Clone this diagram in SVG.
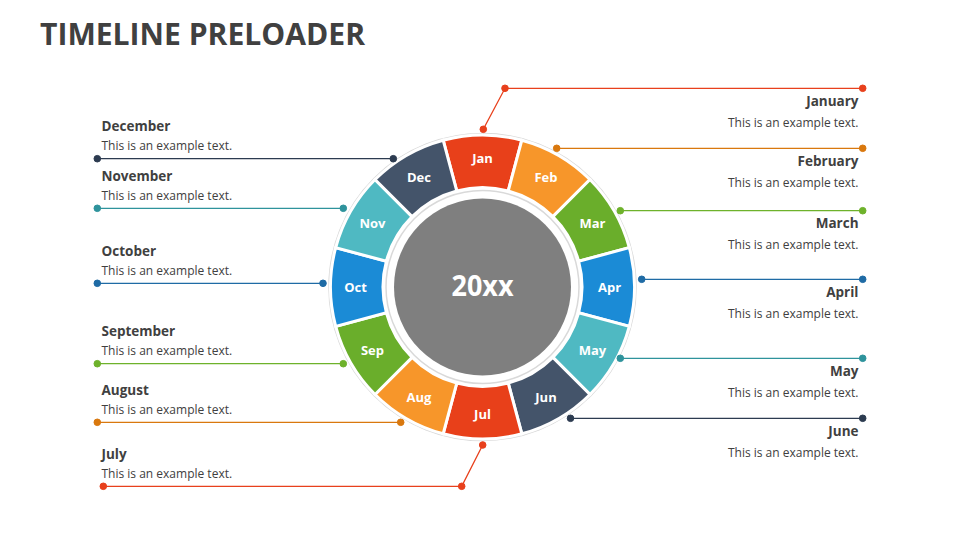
<svg xmlns="http://www.w3.org/2000/svg" width="960" height="540" viewBox="0 0 960 540">
<style>
.title{font-family:"Open Sans","DejaVu Sans",sans-serif;font-weight:700;font-size:30px;fill:#404040}
.h{font-family:"Open Sans","DejaVu Sans",sans-serif;font-weight:700;font-size:13.5px;fill:#404040}
.t{font-family:"Open Sans","DejaVu Sans",sans-serif;font-size:12px;fill:#404040}
.r{text-anchor:end}
.seg path{stroke:#fff;stroke-width:3;stroke-linejoin:miter}
.lbl{font-family:"Open Sans","DejaVu Sans",sans-serif;font-weight:700;font-size:13px;fill:#fff;text-anchor:middle}
.ln{fill:none;stroke-width:1.3}
.red{stroke:#E8401C;fill:#E8401C}
.org{stroke:#D9780E;fill:#D9780E}
.grn{stroke:#6EB22B;fill:#6EB22B}
.blu{stroke:#1F6BA5;fill:#1F6BA5}
.tea{stroke:#2E939C;fill:#2E939C}
.nav{stroke:#2C3B50;fill:#2C3B50}
</style>
<rect width="960" height="540" fill="#fff"/>
<text class="title" x="40" y="44.5" textLength="325" lengthAdjust="spacingAndGlyphs">TIMELINE PRELOADER</text>

<g id="wheel">
<circle cx="482.5" cy="287" r="153.5" fill="#fff" stroke="#D9D9D9" stroke-width="1.5"/>
<g class="seg">
<path id="seg-jan" fill="#E8401A" d="M443.16,140.18 A152,152 0 0 1 521.84,140.18 L508.25,190.89 A99.5,99.5 0 0 0 456.75,190.89 Z"/>
<path id="seg-feb" fill="#F7962A" d="M521.84,140.18 A152,152 0 0 1 589.98,179.52 L552.86,216.64 A99.5,99.5 0 0 0 508.25,190.89 Z"/>
<path id="seg-mar" fill="#6AAE2B" d="M589.98,179.52 A152,152 0 0 1 629.32,247.66 L578.61,261.25 A99.5,99.5 0 0 0 552.86,216.64 Z"/>
<path id="seg-apr" fill="#1B8BD6" d="M629.32,247.66 A152,152 0 0 1 629.32,326.34 L578.61,312.75 A99.5,99.5 0 0 0 578.61,261.25 Z"/>
<path id="seg-may" fill="#4FB9C2" d="M629.32,326.34 A152,152 0 0 1 589.98,394.48 L552.86,357.36 A99.5,99.5 0 0 0 578.61,312.75 Z"/>
<path id="seg-jun" fill="#44546A" d="M589.98,394.48 A152,152 0 0 1 521.84,433.82 L508.25,383.11 A99.5,99.5 0 0 0 552.86,357.36 Z"/>
<path id="seg-jul" fill="#E8401A" d="M521.84,433.82 A152,152 0 0 1 443.16,433.82 L456.75,383.11 A99.5,99.5 0 0 0 508.25,383.11 Z"/>
<path id="seg-aug" fill="#F7962A" d="M443.16,433.82 A152,152 0 0 1 375.02,394.48 L412.14,357.36 A99.5,99.5 0 0 0 456.75,383.11 Z"/>
<path id="seg-sep" fill="#6AAE2B" d="M375.02,394.48 A152,152 0 0 1 335.68,326.34 L386.39,312.75 A99.5,99.5 0 0 0 412.14,357.36 Z"/>
<path id="seg-oct" fill="#1B8BD6" d="M335.68,326.34 A152,152 0 0 1 335.68,247.66 L386.39,261.25 A99.5,99.5 0 0 0 386.39,312.75 Z"/>
<path id="seg-nov" fill="#4FB9C2" d="M335.68,247.66 A152,152 0 0 1 375.02,179.52 L412.14,216.64 A99.5,99.5 0 0 0 386.39,261.25 Z"/>
<path id="seg-dec" fill="#44546A" d="M375.02,179.52 A152,152 0 0 1 443.16,140.18 L456.75,190.89 A99.5,99.5 0 0 0 412.14,216.64 Z"/>
</g>
<g>
<text class="lbl" x="482.5" y="163">Jan</text>
<text class="lbl" x="546" y="181.5">Feb</text>
<text class="lbl" x="592.5" y="228">Mar</text>
<text class="lbl" x="609.5" y="291.5">Apr</text>
<text class="lbl" x="592.5" y="355">May</text>
<text class="lbl" x="546" y="401.5">Jun</text>
<text class="lbl" x="482.5" y="418.5">Jul</text>
<text class="lbl" x="419" y="401.5">Aug</text>
<text class="lbl" x="372.5" y="355">Sep</text>
<text class="lbl" x="355.5" y="291.5">Oct</text>
<text class="lbl" x="372.5" y="228">Nov</text>
<text class="lbl" x="419" y="181.5">Dec</text>
</g>
</g>

<g id="center">
<circle cx="482.5" cy="287" r="96.5" fill="#fff" stroke="#D9D9D9" stroke-width="1.5"/>
<circle cx="482.5" cy="287" r="88.5" fill="#7F7F7F"/>
<text x="482.5" y="296" text-anchor="middle" font-family="Open Sans, DejaVu Sans, sans-serif" font-weight="700" font-size="28" fill="#fff" textLength="62" lengthAdjust="spacingAndGlyphs">20xx</text>
</g>

<g id="connectors">
<polyline class="ln red" points="483.3,129.3 505,88.3 862.7,88.3" style="fill:none"/>
<circle class="red" cx="483.3" cy="129.3" r="3.3"/><circle class="red" cx="505" cy="88.3" r="3.3"/><circle class="red" cx="862.7" cy="88.3" r="3.3"/>
<line class="ln org" x1="556.7" y1="148.3" x2="862.7" y2="148.3"/>
<circle class="org" cx="556.7" cy="148.3" r="3.3"/><circle class="org" cx="862.7" cy="148.3" r="3.3"/>
<line class="ln grn" x1="620.3" y1="210.7" x2="862.7" y2="210.7"/>
<circle class="grn" cx="620.3" cy="210.7" r="3.3"/><circle class="grn" cx="862.7" cy="210.7" r="3.3"/>
<line class="ln blu" x1="641.7" y1="279.3" x2="862.7" y2="279.3"/>
<circle class="blu" cx="641.7" cy="279.3" r="3.3"/><circle class="blu" cx="862.7" cy="279.3" r="3.3"/>
<line class="ln tea" x1="620.3" y1="358.3" x2="862.7" y2="358.3"/>
<circle class="tea" cx="620.3" cy="358.3" r="3.3"/><circle class="tea" cx="862.7" cy="358.3" r="3.3"/>
<line class="ln nav" x1="570.5" y1="418.3" x2="862.7" y2="418.3"/>
<circle class="nav" cx="570.5" cy="418.3" r="3.3"/><circle class="nav" cx="862.7" cy="418.3" r="3.3"/>

<line class="ln nav" x1="97.3" y1="158.7" x2="393.3" y2="158.7"/>
<circle class="nav" cx="97.3" cy="158.7" r="3.3"/><circle class="nav" cx="393.3" cy="158.7" r="3.3"/>
<line class="ln tea" x1="97.3" y1="208.3" x2="343.3" y2="208.3"/>
<circle class="tea" cx="97.3" cy="208.3" r="3.3"/><circle class="tea" cx="343.3" cy="208.3" r="3.3"/>
<line class="ln blu" x1="97.3" y1="283.3" x2="323" y2="283.3"/>
<circle class="blu" cx="97.3" cy="283.3" r="3.3"/><circle class="blu" cx="323" cy="283.3" r="3.3"/>
<line class="ln grn" x1="97.3" y1="363.7" x2="343.3" y2="363.7"/>
<circle class="grn" cx="97.3" cy="363.7" r="3.3"/><circle class="grn" cx="343.3" cy="363.7" r="3.3"/>
<line class="ln org" x1="97.3" y1="422.3" x2="400.7" y2="422.3"/>
<circle class="org" cx="97.3" cy="422.3" r="3.3"/><circle class="org" cx="400.7" cy="422.3" r="3.3"/>
<polyline class="ln red" points="103.3,486.3 461.7,486.3 482.7,445" style="fill:none"/>
<circle class="red" cx="103.3" cy="486.3" r="3.3"/><circle class="red" cx="461.7" cy="486.3" r="3.3"/><circle class="red" cx="482.7" cy="445" r="3.3"/>
</g>

<g id="january"><text class="h r" x="858.5" y="105.8">January</text><text class="t r" x="858.5" y="126.8">This is an example text.</text></g>
<g id="february"><text class="h r" x="858.5" y="165.8">February</text><text class="t r" x="858.5" y="186.8">This is an example text.</text></g>
<g id="march"><text class="h r" x="858.5" y="228">March</text><text class="t r" x="858.5" y="249">This is an example text.</text></g>
<g id="april"><text class="h r" x="858.5" y="296.8">April</text><text class="t r" x="858.5" y="317.8">This is an example text.</text></g>
<g id="may"><text class="h r" x="858.5" y="375.8">May</text><text class="t r" x="858.5" y="396.8">This is an example text.</text></g>
<g id="june"><text class="h r" x="858.5" y="435.8">June</text><text class="t r" x="858.5" y="456.8">This is an example text.</text></g>

<g id="december"><text class="h" x="101.5" y="131.2">December</text><text class="t" x="101.5" y="150.2">This is an example text.</text></g>
<g id="november"><text class="h" x="101.5" y="180.8">November</text><text class="t" x="101.5" y="199.8">This is an example text.</text></g>
<g id="october"><text class="h" x="101.5" y="255.8">October</text><text class="t" x="101.5" y="274.8">This is an example text.</text></g>
<g id="september"><text class="h" x="101.5" y="336.2">September</text><text class="t" x="101.5" y="355.2">This is an example text.</text></g>
<g id="august"><text class="h" x="101.5" y="394.8">August</text><text class="t" x="101.5" y="413.8">This is an example text.</text></g>
<g id="july"><text class="h" x="101.5" y="458.8">July</text><text class="t" x="101.5" y="477.8">This is an example text.</text></g>
</svg>
